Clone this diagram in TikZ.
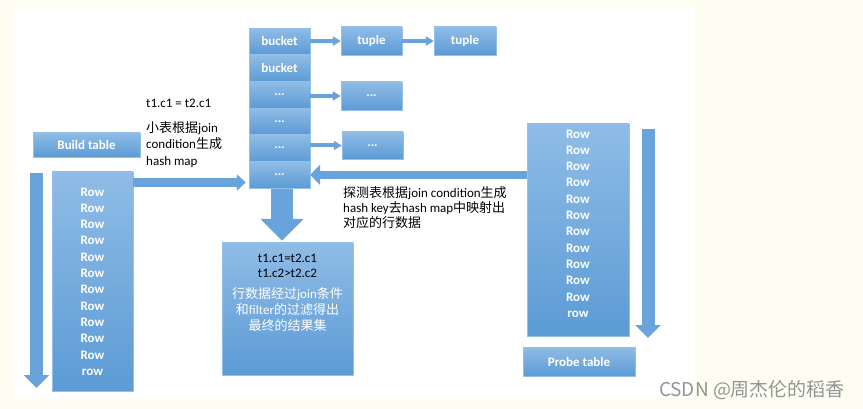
\documentclass[tikz,border=0pt]{standalone}
\usepackage{fontspec}
\setmainfont{Carlito}
\newfontfamily\cjk{Noto Sans CJK SC}
\usetikzlibrary{positioning, arrows.meta}
\definecolor{bluetop}{RGB}{143,188,230}
\definecolor{bluebot}{RGB}{92,155,213}
\definecolor{blueedge}{RGB}{150,192,232}
\definecolor{arrowblue}{RGB}{104,163,219}
\definecolor{cream}{RGB}{253,253,241}
\newcommand\rowstack{Row\\Row\\Row\\Row\\Row\\Row\\Row\\Row\\Row\\Row\\Row\\row}

\begin{document}
\begin{tikzpicture}[
        x=1pt, y=-1pt,
        blk/.style={rectangle, draw=blueedge, top color=bluetop, bottom color=bluebot,
            text=white, font=\fontsize{13}{16.3}\selectfont\bfseries, align=center, inner sep=0pt},
        cell/.style={blk, minimum width=61pt, minimum height=26.33pt},
        rowtxt/.style={text=white, font=\fontsize{13}{16.3}\selectfont\bfseries, align=center, inner sep=0pt},
        note/.style={font=\fontsize{13}{16.2}\selectfont, align=left, inner sep=0pt},
        wnote/.style={text=white, font=\fontsize{13}{16.2}\selectfont, align=center, inner sep=0pt},
        wmark/.style={text=black!42, font=\cjk\fontsize{19}{19}\selectfont, inner sep=0pt},
        flow/.style={draw=arrowblue, line width=4pt, -{Triangle[width=9pt,length=8pt]}},
        midflow/.style={draw=arrowblue, line width=9pt, -{Triangle[width=16pt,length=9pt]}},
        bigflow/.style={draw=arrowblue, line width=13pt, -{Triangle[width=25pt,length=13pt]}},
        fatflow/.style={draw=arrowblue, line width=22pt, -{Triangle[width=42pt,length=22pt]}},
    ]
    \useasboundingbox (0,0) rectangle (863,409);
    \fill[cream] (0,0) rectangle (863,409);
    \fill[white] (14,7) rectangle (695,398);

    % build side
    \node[blk, minimum width=107pt, minimum height=24pt] (build) at (86.5,145) {Build table};
    \node[blk, minimum width=81pt, minimum height=219pt] (brows) at (92.5,281.5) {\rowstack};
    \coordinate (bstart) at (36.5,173);
    \coordinate (bend)   at (36.5,388);
    \draw[bigflow] (bstart) -- (bend);

    % hash map
    \node[cell] (bk1) at (279.5,41.2) {bucket};
    \node[cell, below=0pt of bk1] (bk2) {bucket};
    \foreach \i [count=\j from 2] in {3,...,6}
        \node[cell, below=0pt of bk\j] (bk\i) {...};
    \node[blk, minimum width=61pt, minimum height=28pt] (tup1) at (371.5,41) {tuple};
    \node[blk, minimum width=62pt, minimum height=28pt] (tup2) at (465,41)   {tuple};
    \node[blk, minimum width=61pt, minimum height=28pt] (dot1) at (371.5,96) {...};
    \node[blk, minimum width=61pt, minimum height=27pt] (dot2) at (372.5,145.5) {...};
    \draw[flow] (bk1) -- (tup1);
    \draw[flow] (tup1) -- (tup2);
    \draw[flow] (bk3.east |- dot1) -- (dot1.west);
    \draw[flow] (bk5.east |- dot2) -- (dot2.west);

    \node[note, anchor=west] (cond) at (146,103) {t1.c1 = t2.c1};
    \node[note, anchor=west] (buildnote) at (146,144.5)
        {{\cjk 小表根据}join\\condition{\cjk 生成}\\hash map};
    \coordinate (hin) at (133,182.5);
    \draw[midflow, shorten >=3pt] (hin) -- (hin -| bk6.west);

    % probe side
    \node[blk, minimum width=102pt, minimum height=212pt] (prows) at (578,230) {};
    \node[rowtxt] (ptext) at (578,223.5) {\rowstack};
    \node[blk, minimum width=112pt, minimum height=29pt] (probe) at (579,361.5) {Probe table};
    \coordinate (pstart) at (648,129);
    \coordinate (pend)   at (648,338);
    \draw[bigflow] (pstart) -- (pend);
    \draw[midflow, line width=8pt, -{Triangle[width=20pt,length=10pt]}] (prows.west |- bk6) -- (bk6.east);
    \node[note, anchor=west, font=\fontsize{13}{15}\selectfont] (probenote) at (343,207.5)
        {{\cjk 探测表根据}join condition{\cjk 生成}\\hash key{\cjk 去}hash map{\cjk 中映射出}\\{\cjk 对应的行数据}};

    % result
    \node[blk, minimum width=131pt, minimum height=132pt] (result) at (287.5,309) {};
    \coordinate (dtop) at (282,189);
    \draw[fatflow, shorten >=2pt] (dtop) -- (dtop |- result.north);
    \node[note, align=center, font=\fontsize{13}{15}\selectfont] (rcond) at (287.5,265.5)
        {t1.c1=t2.c1\\t1.c2>t2.c2};
    \node[wnote] (rdesc) at (287.5,309.5)
        {{\cjk 行数据经过}join{\cjk 条件}\\{\cjk 和}filter{\cjk 的过滤得出}\\{\cjk 最终的结果集}};

    \node[wmark] (credit) at (752,390) {CSDN @周杰伦的稻香};
\end{tikzpicture}
\end{document}
